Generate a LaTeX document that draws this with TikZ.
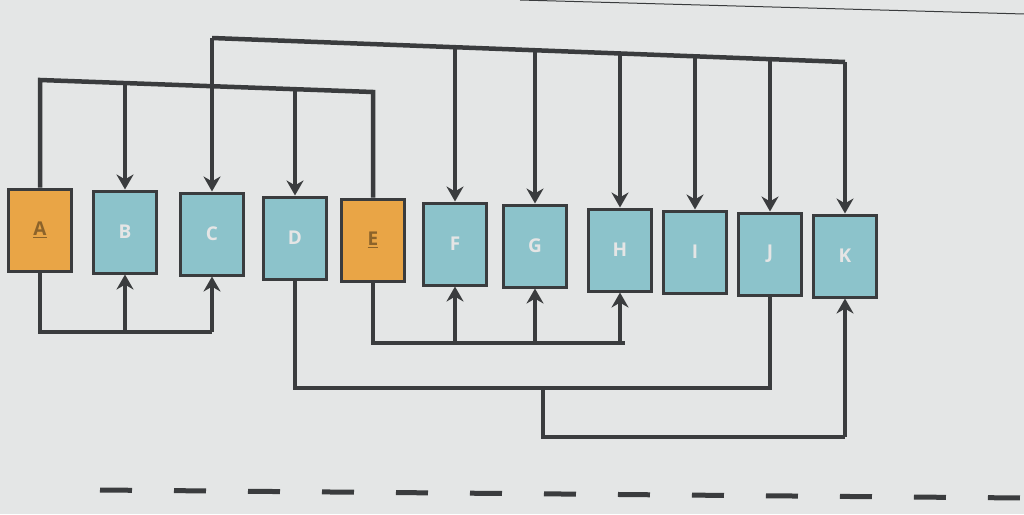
\documentclass[tikz,border=0pt]{standalone}
\usepackage{fontspec}
\setmainfont{Open Sans}
\usetikzlibrary{arrows.meta}
\definecolor{bg}{HTML}{E4E6E6}
\definecolor{teal}{HTML}{8CC3CB}
\definecolor{org}{HTML}{E9A546}
\definecolor{ln}{HTML}{3A3C3E}
\begin{document}
\begin{tikzpicture}[x=1pt,y=-1pt,
  box/.style={draw=ln,line width=3pt,minimum width=63pt,minimum height=82pt,inner sep=0pt,font=\bfseries\fontsize{19}{19}\selectfont,text=white!80!gray},
  tbox/.style={box,fill=teal},
  obox/.style={box,fill=org,text=org!60!black},
  wire/.style={draw=ln,line width=4.5pt},
  arr/.style={wire,-{Stealth[length=15pt,width=17pt]}}]
\fill[bg] (0,0) rectangle (1024,514);
\useasboundingbox (0,0) rectangle (1024,514);
\draw[ln,line width=1pt] (520,0) -- (1024,14);
\node[obox] (A) at (40,230) {\underline{A}};
\node[tbox] (B) at (125,232) {B};
\node[tbox] (C) at (212,234) {C};
\node[tbox] (D) at (295,238) {D};
\node[obox] (E) at (373,240) {\underline{E}};
\node[tbox] (F) at (455,244) {F};
\node[tbox] (G) at (535,246) {G};
\node[tbox] (H) at (620,250) {H};
\node[tbox] (I) at (695,252) {I};
\node[tbox] (J) at (770,254) {J};
\node[tbox] (K) at (845,256) {K};
% top routes
\coordinate (a1) at (40,80);
\coordinate (e1) at (373,92);
\draw[wire] (A.north) -- (a1) -- (e1) -- (E.north);
\foreach \n/\x/\y in {B/125/83,D/295/89} \draw[arr] (\x,\y) -- (\n.north);
\coordinate (t1) at (212,38);
\coordinate (t2) at (845,62);
\draw[arr] (t1) -- (C.north);
\draw[wire] (t1) -- (t2);
\draw[arr] (t2) -- (K.north);
\foreach \n/\x/\y in {F/455/48,G/535/51,H/620/54,I/695/57,J/770/60} \draw[arr] (\x,\y) -- (\n.north);
% bottom routes
\draw[wire] (A.south) |- (212,332);
\draw[arr] (125,332) -- (B.south);
\draw[arr] (212,332) -- (C.south);
\draw[wire] (E.south) |- (625,343);
\foreach \n/\x in {F/455,G/535,H/620} \draw[arr] (\x,343) -- (\n.south);
\draw[wire] (D.south) |- (770,388) -- (J.south);
\coordinate (k1) at (543,388);
\draw[wire] (k1) |- (845,437);
\draw[arr] (845,437) -- (K.south);
% dashed line
\draw[ln,line width=5pt,dash pattern=on 32pt off 42pt] (100,490) -- (1024,498);
\end{tikzpicture}
\end{document}
